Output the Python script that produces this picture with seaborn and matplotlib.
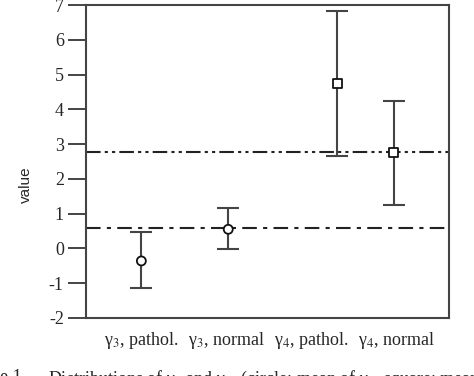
import matplotlib
matplotlib.use("Agg")
import matplotlib.pyplot as plt
import seaborn as sns
import pandas as pd
import numpy as np

# data
groups = ["γ$_3$, pathol.", "γ$_3$, normal", "γ$_4$, pathol.", "γ$_4$, normal"]
x_pos = [0.0, 1.02, 2.3, 2.96]
means = [-0.36, 0.55, 4.74, 2.76]
upper = [0.47, 1.17, 6.82, 4.24]
lower = [-1.13, -0.03, 2.66, 1.26]
shapes = ["circle", "circle", "square", "square"]
ref_gamma4 = 2.77
ref_gamma3 = 0.58
y_ticks = [-2, -1, 0, 1, 2, 3, 4, 5, 6, 7]

df = pd.DataFrame({"x": x_pos, "value": means, "shape": shapes,
                   "lo": lower, "hi": upper, "group": groups})

sns.set_style("white")
plt.rcParams["font.family"] = ["Liberation Serif", "DejaVu Serif"]
plt.rcParams["mathtext.fontset"] = "stix"

fig = plt.figure(figsize=(4.74, 3.76), dpi=100)
ax = fig.add_axes([0.1814, 0.1543, 0.7656, 0.8324])

line_col = "#444444"

# reference lines
ax.axhline(ref_gamma4, color="#222222", lw=1.5, dashes=(7, 2, 1.5, 2, 1.5, 2), zorder=1)
ax.axhline(ref_gamma3, color="#222222", lw=1.5, dashes=(7, 3, 2, 3), zorder=1)

# error bars
yerr = np.vstack([df["value"] - df["lo"], df["hi"] - df["value"]])
ax.errorbar(df["x"], df["value"], yerr=yerr, fmt="none", ecolor=line_col,
            elinewidth=1.5, capsize=8, capthick=1.5, zorder=2)

# mean markers
sns.scatterplot(data=df, x="x", y="value", style="shape",
                markers={"circle": "o", "square": "s"}, s=42,
                facecolor="white", edgecolor="#111111", linewidth=1.3,
                legend=False, ax=ax, zorder=3)

ax.set_xlim(-0.65, 3.61)
ax.set_ylim(-2, 7)
ax.set_yticks(y_ticks)
ax.set_yticklabels([str(t) for t in y_ticks])
ax.set_xticks(range(len(groups)))
ax.set_xticklabels(groups, fontsize=13)
ax.tick_params(axis="x", length=0, pad=9)
ax.tick_params(axis="y", direction="out", length=13, width=1.4,
               color=line_col, labelsize=13, pad=3, left=True)
ax.set_xlabel("")
ax.set_ylabel("value", family=["Liberation Sans", "DejaVu Sans"], fontsize=11)
ax.yaxis.set_label_coords(-0.146, 0.425)

for sp in ax.spines.values():
    sp.set_color(line_col)
    sp.set_linewidth(1.5)

# caption, cut off by the lower edge as in the source
fig.text(0.0, 7 / 376, "e 1.", fontsize=13, va="top", ha="left")
fig.text(48 / 474, 7 / 376,
         "Distributions of γ$_3$ and γ$_4$  (circle: mean of γ$_3$, square: mean",
         fontsize=13, va="top", ha="left")

fig.savefig("out.png", dpi=100)
